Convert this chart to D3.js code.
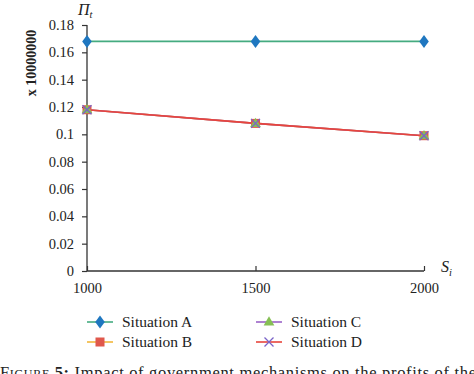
<!DOCTYPE html>
<html><head><meta charset="utf-8">
<script src="https://cdn.jsdelivr.net/npm/d3@7"></script>
<style>html,body{margin:0;padding:0;background:#fff;overflow:hidden}</style>
</head><body><svg id="c" width="474" height="374"></svg>
<script>
const xValues = [1000, 1500, 2000];
const seriesNames = ["Situation A", "Situation B", "Situation C", "Situation D"];
const valuesA = [0.168, 0.168, 0.168];
const valuesB = [0.118, 0.108, 0.099];
const valuesC = [0.118, 0.108, 0.099];
const valuesD = [0.118, 0.108, 0.099];
const yTicks = [0, 0.02, 0.04, 0.06, 0.08, 0.1, 0.12, 0.14, 0.16, 0.18];
const yTickLabels = ["0", "0.02", "0.04", "0.06", "0.08", "0.1", "0.12", "0.14", "0.16", "0.18"];
const xTickLabels = ["1000", "1500", "2000"];

const series = [
  {name: seriesNames[0], values: valuesA, line: "#45ab80", marker: "diamond", mcol: "#1f77c0"},
  {name: seriesNames[1], values: valuesB, line: "#f2b63c", marker: "square", mcol: "#e0584c"},
  {name: seriesNames[2], values: valuesC, line: "#9a63c7", marker: "triangle", mcol: "#86bf55"},
  {name: seriesNames[3], values: valuesD, line: "#e8453c", marker: "cross", mcol: "#7a64c8"}
];

const svg = d3.select("#c");
const font = "'Liberation Serif', 'DejaVu Serif', serif";
const x = d3.scaleLinear().domain([1000, 2000]).range([87, 424]);
const y = d3.scaleLinear().domain([0, 0.18]).range([271, 25]);

// y axis
const yAxis = d3.axisLeft(y).tickValues(yTicks).tickFormat((d,i)=>yTickLabels[i]).tickSize(5).tickSizeOuter(0).tickPadding(8);
const gy = svg.append("g").attr("transform", "translate(87,0)").call(yAxis);
gy.select(".domain").attr("stroke", "#333").attr("stroke-width", 1.3).attr("d", `M0,${y(0)}V${y(0.18)}`);
gy.selectAll(".tick line").attr("stroke", "#333").attr("stroke-width", 1.2);
gy.selectAll("text").attr("font-family", font).attr("font-size", 14.5).attr("fill", "#222");

// x axis
const xAxis = d3.axisBottom(x).tickValues(xValues).tickFormat((d,i)=>xTickLabels[i]).tickSize(-5).tickSizeOuter(0).tickPadding(12);
const gx = svg.append("g").attr("transform", "translate(0,271)").call(xAxis);
gx.select(".domain").attr("stroke", "#333").attr("stroke-width", 1.3).attr("d", `M${x(1000)},0H${x(2000)}`);
gx.selectAll(".tick line").attr("stroke", "#333").attr("stroke-width", 1.2);
gx.selectAll("text").attr("font-family", font).attr("font-size", 14.5).attr("fill", "#222");

// axis titles
svg.append("text").attr("transform", "translate(36,63) rotate(-90)").attr("text-anchor", "middle")
  .attr("font-family", font).attr("font-weight", "bold").attr("font-size", 14).attr("fill", "#222").text("x 10000000");
const pi = svg.append("text").attr("x", 78).attr("y", 15).attr("font-family", font).attr("font-style", "italic").attr("font-size", 16).attr("fill", "#222");
pi.append("tspan").text("Π");
pi.append("tspan").attr("font-size", 10.5).attr("dy", 3).text("t");
const si = svg.append("text").attr("x", 441).attr("y", 272).attr("font-family", font).attr("font-style", "italic").attr("font-size", 16).attr("fill", "#222");
si.append("tspan").text("S");
si.append("tspan").attr("font-size", 10.5).attr("dy", 4).text("i");

// markers
function drawMarker(g, type, cx, cy, col) {
  if (type === "diamond") {
    g.append("path").attr("d", d3.symbol(d3.symbolDiamond, 60)()).attr("transform", `translate(${cx},${cy}) scale(1.15,0.9)`).attr("fill", col);
  } else if (type === "square") {
    g.append("rect").attr("x", cx-4.5).attr("y", cy-4.5).attr("width", 9).attr("height", 9).attr("fill", col);
  } else if (type === "triangle") {
    g.append("path").attr("d", d3.symbol(d3.symbolTriangle, 50)()).attr("transform", `translate(${cx},${cy+0.5})`).attr("fill", col);
  } else if (type === "cross") {
    g.append("path").attr("d", `M${cx-4.5},${cy-4.5}L${cx+4.5},${cy+4.5}M${cx-4.5},${cy+4.5}L${cx+4.5},${cy-4.5}`).attr("stroke", col).attr("stroke-width", 1.3).attr("fill", "none");
  }
}

const line = d3.line().x((d,i)=>x(xValues[i])).y(d=>y(d));
const plot = svg.append("g");
series.forEach(s => {
  plot.append("path").datum(s.values).attr("d", line).attr("fill", "none").attr("stroke", s.line).attr("stroke-width", 1.6);
});
series.forEach(s => {
  s.values.forEach((v,i) => drawMarker(plot, s.marker, x(xValues[i]), y(v), s.mcol));
});

// legend
const legX = [87, 256];
const legY = [322, 342];
series.forEach((s, i) => {
  const col = Math.floor(i / 2), row = i % 2;
  const lx = legX[col], ly = legY[row];
  const g = svg.append("g");
  g.append("line").attr("x1", lx).attr("x2", lx+26).attr("y1", ly).attr("y2", ly).attr("stroke", s.line).attr("stroke-width", 1.6);
  drawMarker(g, s.marker, lx+13, ly, s.mcol);
  g.append("text").attr("x", lx+35).attr("y", ly+5).attr("font-family", font).attr("font-size", 15.5).attr("fill", "#222").text(s.name);
});

// caption (cut off by frame, as in the reference)
const cap = svg.append("text").attr("x", 0).attr("y", 378).attr("font-family", font).attr("font-size", 16.5)
  .attr("fill", "#222").attr("textLength", 476).attr("lengthAdjust", "spacing");
cap.append("tspan").text("F");
cap.append("tspan").attr("font-size", 12).text("IGURE");
cap.append("tspan").attr("font-weight", "bold").text(" 5:");
cap.append("tspan").text(" Impact of government mechanisms on the profits of the");
</script></body></html>
